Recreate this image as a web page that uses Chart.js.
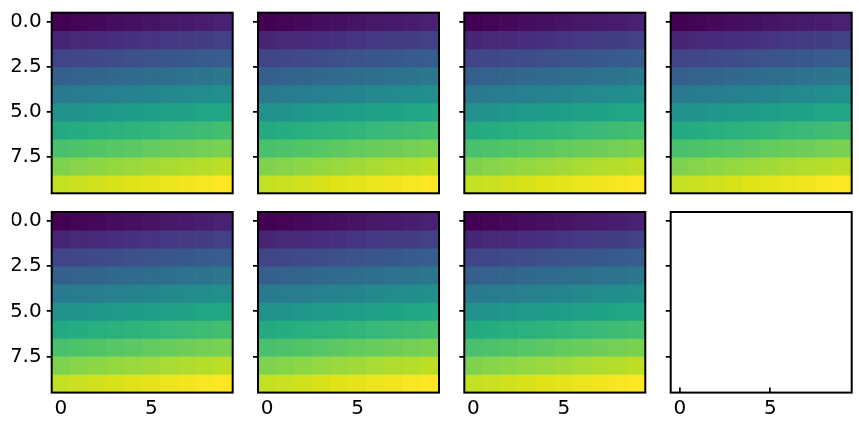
<!DOCTYPE html>
<html>
<head>
<meta charset="utf-8">
<script src="https://cdn.jsdelivr.net/npm/chart.js@4.4.1/dist/chart.umd.min.js"></script>
<style>
  html, body { margin: 0; padding: 0; background: #fff; }
  #wrap { position: relative; width: 859px; height: 424px; }
  #wrap canvas { position: absolute; left: 0; top: 0; }
</style>
</head>
<body>
<div id="wrap"></div>
<script>
// the image shown in every filled panel (row i, column j)
const image = [
  [0, 1, 2, 3, 4, 5, 6, 7, 8, 9],
  [10, 11, 12, 13, 14, 15, 16, 17, 18, 19],
  [20, 21, 22, 23, 24, 25, 26, 27, 28, 29],
  [30, 31, 32, 33, 34, 35, 36, 37, 38, 39],
  [40, 41, 42, 43, 44, 45, 46, 47, 48, 49],
  [50, 51, 52, 53, 54, 55, 56, 57, 58, 59],
  [60, 61, 62, 63, 64, 65, 66, 67, 68, 69],
  [70, 71, 72, 73, 74, 75, 76, 77, 78, 79],
  [80, 81, 82, 83, 84, 85, 86, 87, 88, 89],
  [90, 91, 92, 93, 94, 95, 96, 97, 98, 99]
];
const xTicks = [0, 5];
const xTickLabels = ['0', '5'];
const yTicks = [0, 2.5, 5, 7.5];
const yTickLabels = ['0.0', '2.5', '5.0', '7.5'];
const panelFilled = [true, true, true, true, true, true, true, false];

// layout (px)
const colLeft = [51.7, 258, 464.3, 670.7];
const rowTop = [12.7, 212];
const panelW = 181;
const panelH = 180.6;
const W = 859, H = 424;

// viridis stops, every 0.05
const viridis = ['#440154', '#471365', '#482475', '#463480', '#414487', '#3b528b', '#355f8d',
  '#2f6c8e', '#2a788e', '#25848e', '#21918c', '#1e9c89', '#22a884', '#2fb47c', '#44bf70',
  '#5ec962', '#7ad151', '#9bd93c', '#bddf26', '#dfe318', '#fde725'];

function hexRgb(h) {
  return [1, 3, 5].map(k => parseInt(h.slice(k, k + 2), 16));
}
function cmap(t) {
  const f = Math.max(0, Math.min(1, t)) * (viridis.length - 1);
  const i = Math.min(Math.floor(f), viridis.length - 2);
  const a = hexRgb(viridis[i]), b = hexRgb(viridis[i + 1]);
  const u = f - i;
  const c = a.map((v, k) => Math.round(v + (b[k] - v) * u));
  return `rgb(${c[0]},${c[1]},${c[2]})`;
}

const allVals = image.flat();
const vmin = Math.min(...allVals), vmax = Math.max(...allVals);

const framePlugin = {
  id: 'frame',
  afterDraw(chart) {
    const { ctx, chartArea: a } = chart;
    ctx.save();
    ctx.strokeStyle = '#000';
    ctx.lineWidth = 2;
    ctx.strokeRect(a.left, a.top, a.right - a.left, a.bottom - a.top);
    ctx.restore();
  }
};

// keep tick labels from pushing the plot area around
function noPad(s) {
  s.paddingTop = 0;
  s.paddingBottom = 0;
  s.paddingLeft = 0;
  s.paddingRight = 0;
}

const wrap = document.getElementById('wrap');

panelFilled.forEach((filled, p) => {
  const r = Math.floor(p / 4), c = p % 4;
  const canvas = document.createElement('canvas');
  canvas.width = W;
  canvas.height = H;
  wrap.appendChild(canvas);

  const yAxisW = 40, xAxisH = 25;
  const datasets = filled ? image.map((row, i) => ({
    data: row.map((v, j) => ({ x: j, y: [i - 0.5, i + 0.5] })),
    backgroundColor: row.map(v => cmap((v - vmin) / (vmax - vmin))),
    borderWidth: 0,
    barPercentage: 1,
    categoryPercentage: 1,
    grouped: false
  })) : [];

  new Chart(canvas, {
    type: 'bar',
    data: { datasets },
    options: {
      responsive: false,
      animation: false,
      devicePixelRatio: 1,
      layout: {
        padding: {
          left: colLeft[c] - yAxisW,
          right: W - colLeft[c] - panelW,
          top: rowTop[r],
          bottom: H - rowTop[r] - panelH - xAxisH
        }
      },
      plugins: { legend: { display: false }, tooltip: { enabled: false } },
      scales: {
        x: {
          type: 'linear',
          position: 'bottom',
          min: -0.5,
          max: 9.5,
          z: 1,
          offset: false,
          border: { display: false },
          grid: { offset: false, drawOnChartArea: false, drawTicks: true, tickLength: -5, lineWidth: 1.75, tickColor: '#000' },
          ticks: {
            display: r === 1,
            padding: 9,
            color: '#000',
            font: { family: 'DejaVu Sans', size: 20 },
            callback: v => xTickLabels[xTicks.indexOf(v)] ?? ''
          },
          afterBuildTicks: s => { s.ticks = xTicks.map(v => ({ value: v })); },
          afterFit: s => { s.height = xAxisH; noPad(s); }
        },
        y: {
          type: 'linear',
          position: 'left',
          min: -0.5,
          max: 9.5,
          reverse: true,
          z: 1,
          border: { display: false },
          grid: { offset: false, drawOnChartArea: false, drawTicks: true, tickLength: 5, lineWidth: 1.75, tickColor: '#000' },
          ticks: {
            display: c === 0,
            padding: 5,
            color: '#000',
            font: { family: 'DejaVu Sans', size: 20 },
            callback: v => yTickLabels[yTicks.indexOf(v)] ?? ''
          },
          afterBuildTicks: s => { s.ticks = yTicks.map(v => ({ value: v })); },
          afterFit: s => { s.width = yAxisW; noPad(s); }
        }
      }
    },
    plugins: [framePlugin]
  });
});
</script>
</body>
</html>
